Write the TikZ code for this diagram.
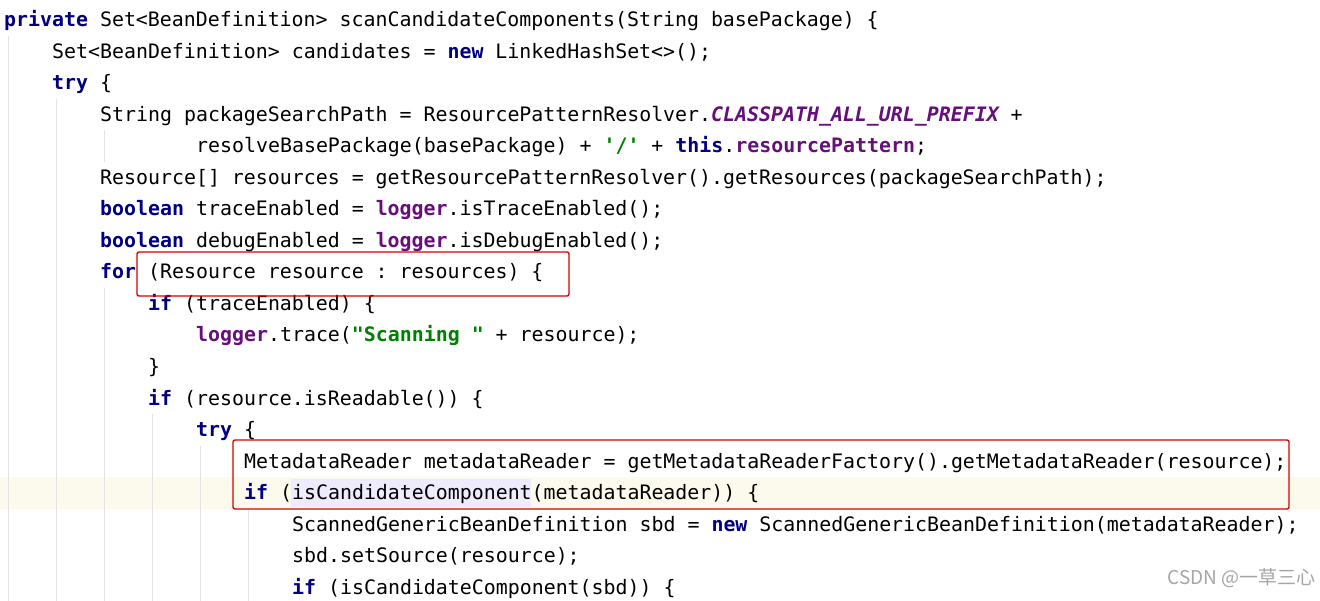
\documentclass[tikz,border=0pt]{standalone}
\usepackage{fontspec}
\setmonofont{DejaVu Sans Mono}
\newfontfamily\cjk{Noto Sans CJK SC}
\definecolor{kw}{HTML}{000080}
\definecolor{pur}{HTML}{660E7A}
\definecolor{str}{HTML}{008000}
\definecolor{txt}{HTML}{000000}
\definecolor{guide}{HTML}{E3E3E3}
\definecolor{hl}{HTML}{FCFAED}
\definecolor{hl2}{HTML}{EDEBFC}
\newcommand{\KWd}[1]{\textcolor{kw}{\bfseries #1}}
\newcommand{\PUr}[1]{\textcolor{pur}{\bfseries #1}}
\newcommand{\PUi}[1]{\textcolor{pur}{\bfseries\itshape #1}}
\newcommand{\STr}[1]{\textcolor{str}{\bfseries #1}}
\begin{document}
\begin{tikzpicture}[x=1pt,y=-1pt,
  code/.style={anchor=base west,inner sep=0pt,font=\ttfamily\fontsize{19.9pt}{24pt}\selectfont,text=txt},
  redbox/.style={draw=red!85!black,line width=1.4pt,rounded corners=2pt},
  gl/.style={draw=guide,line width=1pt}]
\useasboundingbox (0,0) rectangle (1320,601);
\fill[white] (0,0) rectangle (1320,601);
\def\rh{31.55}
\def\base{26.5}
\fill[hl] (0,{20+15*\rh-15.8}) rectangle (1320,{20+15*\rh+15.8});
\fill[hl2] (291,{20+15*\rh-14}) rectangle (531,{20+15*\rh+14});
\foreach \x/\a/\b in {8/2/19, 56/4/19, 104/5/5, 104/10/19, 152/14/19, 200/15/19, 248/17/19}
  \draw[gl] (\x,{20+(\a-1)*\rh-15.8}) -- (\x,{20+(\b-1)*\rh+15.8});
\newcommand{\CLine}[3]{\node[code] (l#1) at ({4+48*#2},{\base+(#1-1)*\rh}) {#3};}
\CLine{1}{0}{\KWd{private} Set<BeanDefinition> scanCandidateComponents(String basePackage) \{}
\CLine{2}{1}{Set<BeanDefinition> candidates = \KWd{new} LinkedHashSet<>();}
\CLine{3}{1}{\KWd{try} \{}
\CLine{4}{2}{String packageSearchPath = ResourcePatternResolver.\PUi{CLASSPATH\_ALL\_URL\_PREFIX} +}
\CLine{5}{4}{resolveBasePackage(basePackage) + \STr{'/'} + \KWd{this}.\PUr{resourcePattern};}
\CLine{6}{2}{Resource[] resources = getResourcePatternResolver().getResources(packageSearchPath);}
\CLine{7}{2}{\KWd{boolean} traceEnabled = \PUr{logger}.isTraceEnabled();}
\CLine{8}{2}{\KWd{boolean} debugEnabled = \PUr{logger}.isDebugEnabled();}
\CLine{9}{2}{\KWd{for} (Resource resource : resources) \{}
\CLine{10}{3}{\KWd{if} (traceEnabled) \{}
\CLine{11}{4}{\PUr{logger}.trace(\STr{"Scanning "} + resource);}
\CLine{12}{3}{\}}
\CLine{13}{3}{\KWd{if} (resource.isReadable()) \{}
\CLine{14}{4}{\KWd{try} \{}
\CLine{15}{5}{MetadataReader metadataReader = getMetadataReaderFactory().getMetadataReader(resource);}
\CLine{16}{5}{\KWd{if} (isCandidateComponent(metadataReader)) \{}
\CLine{17}{6}{ScannedGenericBeanDefinition sbd = \KWd{new} ScannedGenericBeanDefinition(metadataReader);}
\CLine{18}{6}{sbd.setSource(resource);}
\CLine{19}{6}{\KWd{if} (isCandidateComponent(sbd)) \{}
\draw[redbox] (137,252) rectangle (569,296);
\draw[redbox] (233,440) rectangle (1289,509);
\node[anchor=east,inner sep=0pt,text=black!35,font=\cjk\fontsize{19pt}{22pt}\selectfont] (wm) at (1316,578) {CSDN @一草三心};
\end{tikzpicture}
\end{document}
